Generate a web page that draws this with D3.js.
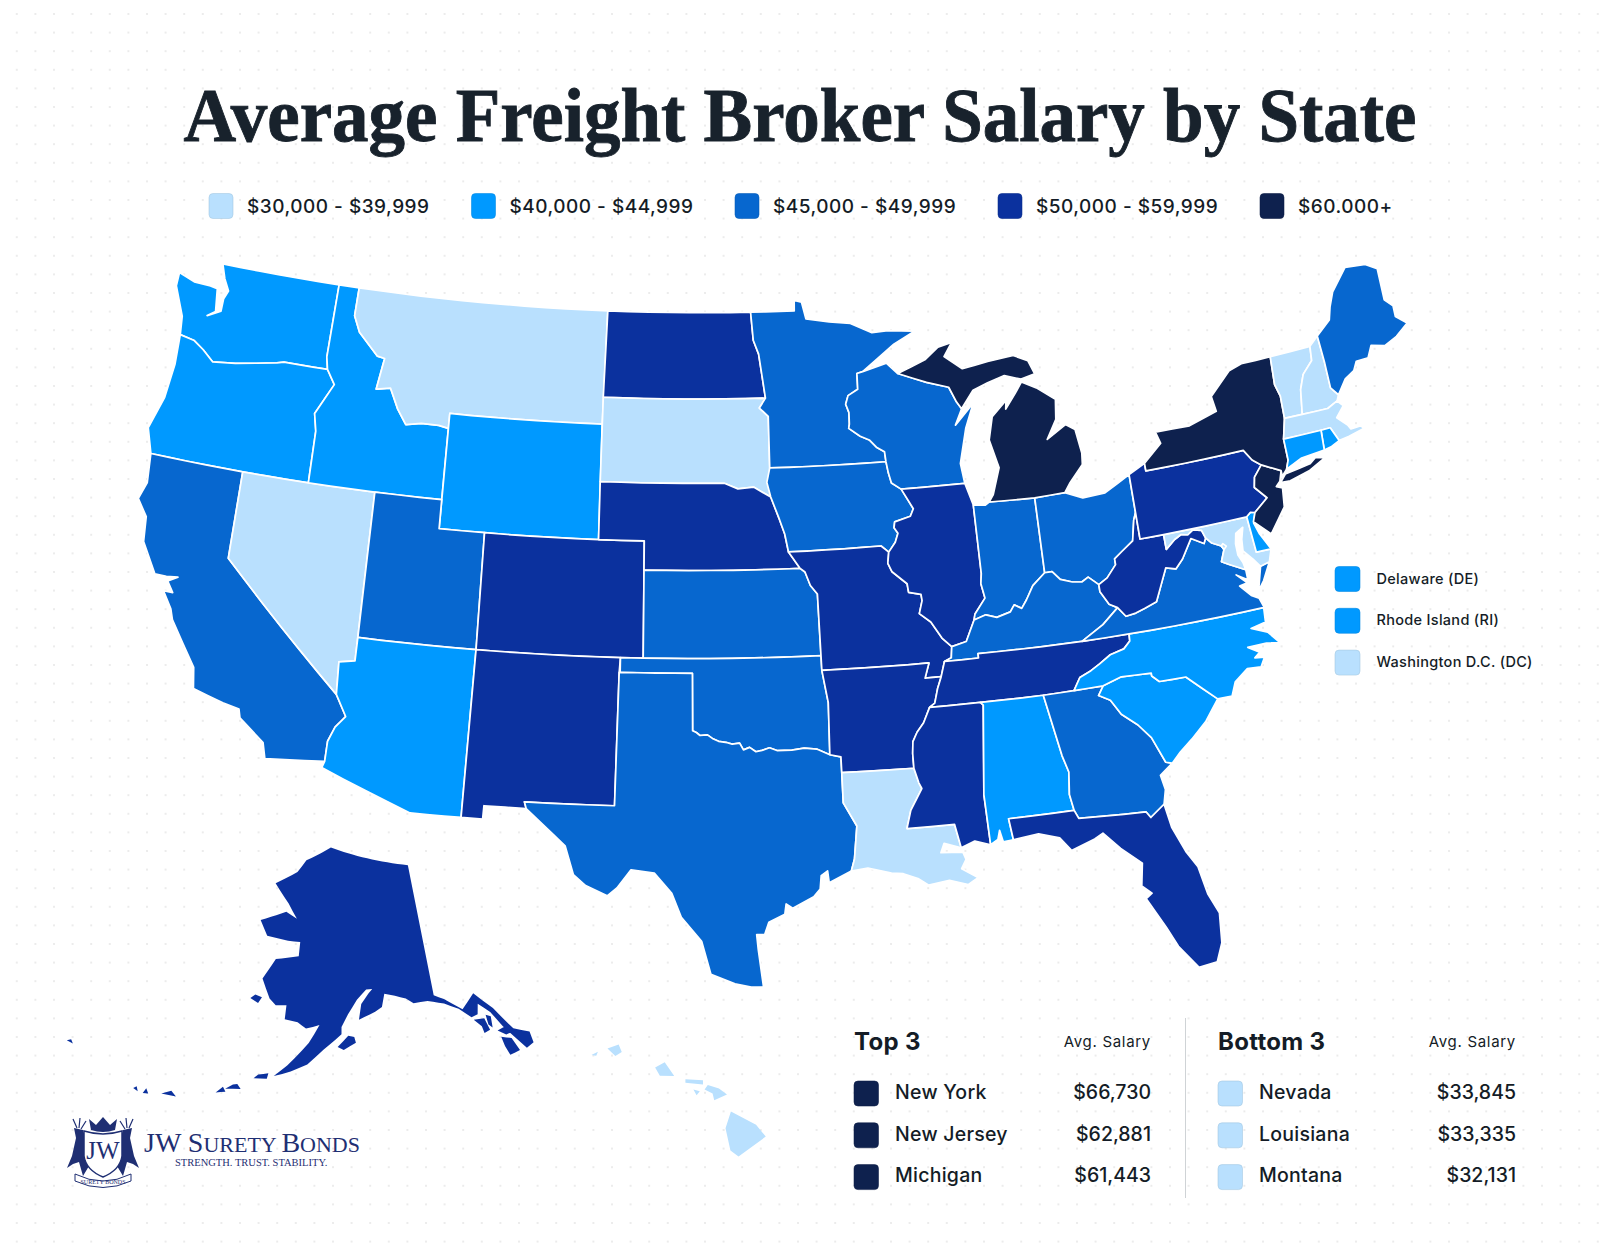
<!DOCTYPE html>
<html>
<head>
<meta charset="utf-8">
<title>Average Freight Broker Salary by State</title>
<script src="https://cdn.jsdelivr.net/npm/d3@7"></script>
<style>
  html, body { margin: 0; padding: 0; background: #fff; }
  svg { display: block; }
  text { font-family: Inter, sans-serif; fill: #141c26; }
</style>
</head>
<body>
<svg id="chart" width="1600" height="1250"></svg>
<script>
// salary bands, legends
var bandLabels = ["$30,000 - $39,999", "$40,000 - $44,999", "$45,000 - $49,999", "$50,000 - $59,999", "$60.000+"];
var bandColors = ["#b9e0fe", "#0099ff", "#0767cf", "#0b319e", "#0e214e"];
var bandStates = [
  ["MT", "SD", "NV", "LA", "VT", "NH", "MA", "MD", "DC", "HI"],
  ["WA", "OR", "ID", "WY", "AZ", "AL", "NC", "SC", "CT", "RI", "DE"],
  ["CA", "UT", "TX", "OK", "KS", "MN", "IA", "WI", "IN", "OH", "KY", "VA", "GA", "ME"],
  ["ND", "NE", "CO", "NM", "MO", "AR", "MS", "IL", "TN", "FL", "WV", "PA", "AK"],
  ["MI", "NY", "NJ"]
];
var smallStates = ["Delaware (DE)", "Rhode Island (RI)", "Washington D.C. (DC)"];
var smallBands = [1, 1, 0];
var topNames = ["New York", "New Jersey", "Michigan"];
var topSalaries = ["$66,730", "$62,881", "$61,443"];
var bottomNames = ["Nevada", "Louisiana", "Montana"];
var bottomSalaries = ["$33,845", "$33,335", "$32,131"];

// shared borders, lon/lat
var stCroix = [[-92.02,46.71],[-92.29,46.66],[-92.29,46.1],[-92.75,45.9],[-92.88,45.6],[-92.75,45.3],[-92.76,44.9],[-92.8,44.75],[-92.3,44.45],[-91.9,44.3],[-91.6,44.03],[-91.25,43.85],[-91.22,43.5]];
var missIaWi = [[-91.22,43.5],[-91.15,43.1],[-91.05,42.75],[-90.64,42.51]];
var missIaIl = [[-90.64,42.51],[-90.18,41.8],[-90.34,41.55],[-91.05,41.4],[-91.1,41.2],[-90.95,41.0],[-91.1,40.7],[-91.42,40.38]];
var missMoIl = [[-91.42,40.38],[-91.5,40.0],[-91.35,39.7],[-90.75,39.25],[-90.72,38.95],[-90.2,38.85],[-90.18,38.63],[-90.35,38.2],[-89.9,37.88],[-89.5,37.3],[-89.13,36.98]];
var missMoKy = [[-89.13,36.98],[-89.2,36.6],[-89.5,36.5]];
var missMoTn = [[-89.5,36.5],[-89.7,36.0]];
var missArTn = [[-89.7,36.0],[-89.9,35.6],[-90.07,35.13],[-90.3,35.0]];
var missArMs = [[-90.3,35.0],[-90.6,34.5],[-90.9,34.2],[-91.1,33.9],[-91.15,33.5],[-91.15,33.0]];
var missLaMs = [[-91.15,33.0],[-91.0,32.5],[-90.9,32.3],[-91.4,31.6],[-91.6,31.0]];
var ohioIlKy = [[-88.07,37.8],[-88.5,37.1],[-89.13,36.98]];
var ohioInKy = [[-84.82,39.1],[-85.4,38.72],[-85.75,38.27],[-86.0,38.0],[-86.3,38.15],[-86.5,37.93],[-87.1,37.8],[-87.55,37.93],[-88.07,37.8]];
var ohioOhKy = [[-82.6,38.42],[-83.0,38.73],[-83.3,38.6],[-83.7,38.65],[-84.2,38.8],[-84.5,39.1],[-84.82,39.1]];
var ohioOhWv = [[-80.52,40.64],[-80.65,40.4],[-80.85,39.7],[-81.4,39.4],[-81.75,39.2],[-81.75,39.0],[-82.2,38.6],[-82.6,38.42]];
var wabash = [[-87.53,39.35],[-87.6,39.0],[-87.5,38.5],[-88.0,38.0],[-88.07,37.8]];
var kyWv = [[-82.6,38.42],[-82.6,38.17],[-82.3,37.7],[-81.97,37.54]];
var kyVa = [[-81.97,37.54],[-82.7,37.05],[-83.68,36.6]];
var vaWv = [[-81.97,37.54],[-81.68,37.2],[-81.25,37.25],[-80.85,37.35],[-80.3,37.5],[-80.0,38.0],[-79.65,38.58],[-79.23,38.48],[-78.87,38.77],[-78.35,39.4],[-77.83,39.14],[-77.72,39.32]];
var mdWv = [[-77.72,39.32],[-77.83,39.6],[-78.2,39.68],[-78.45,39.55],[-78.75,39.6],[-79.05,39.48],[-79.48,39.2],[-79.48,39.72]];
var potomac = [[-77.72,39.32],[-77.5,39.1],[-77.12,38.93],[-77.04,38.79],[-77.25,38.4],[-76.95,38.25],[-76.3,37.95]];
var tnNc = [[-81.68,36.59],[-81.7,36.35],[-82.0,36.12],[-82.6,36.0],[-83.1,35.75],[-83.5,35.57],[-84.0,35.4],[-84.32,34.99]];
var savannah = [[-83.1,35.0],[-83.35,34.7],[-82.9,34.48],[-82.55,33.95],[-81.95,33.5],[-81.5,33.0],[-81.1,32.1],[-80.85,32.03]];
var ncSc = [[-83.1,35.0],[-82.3,35.2],[-81.05,35.15],[-81.05,35.05],[-80.78,34.82],[-79.67,34.8],[-78.55,33.86]];
var alGa = [[-85.6,34.98],[-85.18,32.87],[-85.0,32.3],[-85.1,31.55],[-85.0,31.0]];
var redRiver = [[-100,34.56],[-99.85,34.5],[-99.7,34.4],[-99.4,34.42],[-99.2,34.3],[-98.95,34.2],[-98.6,34.15],[-98.4,34.1],[-98.1,34.13],[-97.95,33.9],[-97.7,33.98],[-97.45,33.83],[-97.2,33.87],[-96.9,33.95],[-96.6,33.85],[-96.0,33.85],[-95.5,33.9],[-95.0,33.85],[-94.48,33.64]];
var moKs = [[-95.3,40],[-95.1,39.87],[-94.9,39.4],[-94.62,39.1]];
var neIa = [[-96.45,42.49],[-96.1,41.7],[-95.9,41.2],[-95.77,40.58]];
var neMo = [[-95.77,40.58],[-95.3,40]];
var neSd = [[-96.45,42.49],[-97.2,42.85],[-97.9,42.8],[-98.5,43],[-104.05,43]];
var redNorth = [[-97.23,49],[-97.1,48],[-96.85,47.5],[-96.56,45.94]];
var mnSd = [[-96.56,45.94],[-96.85,45.6],[-96.45,45.3],[-96.45,43.5]];
var idMt = [[-116.05,49],[-116.05,48],[-115.7,47.45],[-114.7,46.7],[-114.35,46.65],[-114.55,45.55],[-113.9,45.65],[-113.45,44.95],[-113,44.45],[-112.3,44.55],[-111.5,44.55],[-111.05,44.48]];
var orId = [[-116.92,45.99],[-116.5,45.5],[-116.85,44.95],[-117.2,44.4],[-117.03,43.8],[-117.03,42]];
var orWa = [[-124,46.25],[-123.3,46.15],[-122.8,45.9],[-122.25,45.55],[-121.2,45.65],[-119.3,45.93],[-118.98,46],[-116.92,45.99]];
var azCa = [[-114.63,35],[-114.13,34.3],[-114.5,33.9],[-114.72,33.4],[-114.72,32.72]];
var sabine = [[-94.04,33.02],[-94.04,32],[-93.55,31.2],[-93.7,30.1],[-93.84,29.7]];
var nyVt = [[-73.35,45],[-73.4,44],[-73.25,43.55],[-73.27,42.75]];
var vtNh = [[-71.5,45.01],[-71.55,44.5],[-72.05,44.1],[-72.3,43.6],[-72.46,42.73]];
var nhMe = [[-71.08,45.3],[-71,44.3],[-70.98,43.38],[-70.7,43.07]];
var paNy = [[-75.35,42],[-75.05,41.6],[-74.7,41.36]];
var paNj = [[-74.7,41.36],[-75.1,41],[-75.2,40.65],[-74.75,40.2],[-75.4,39.8]];

function rev(line) { return line.slice().reverse(); }

// state outlines, lon/lat
var WA = [[-124.7,48.38],[-123.9,48.17],[-123.1,48.15],[-122.75,48.1],[-122.6,47.3],[-122.95,47.1],[-122.35,47.35],[-122.35,47.8],[-122.2,48.1],[-122.5,48.5],[-122.75,49],[-120,49],[-117.03,49],[-117.04,46.42],[-116.92,45.99]].concat(rev(orWa).slice(1), [[-124.1,46.9],[-124.7,47.9]]);
var OR = orWa.concat(orId.slice(1), [[-120,42],[-124.2,42],[-124.55,42.85],[-124.1,44],[-123.95,45.2]]);
var CA = [[-124.2,42],[-120,42],[-120,39],[-114.63,35]].concat(azCa.slice(1), [[-117.12,32.53],[-117.3,33.05],[-118.4,33.75],[-118.5,34.03],[-119.2,34.15],[-120.5,34.45],[-120.65,35.15],[-121.9,36.6],[-122.05,36.95],[-122.5,37.5],[-122.1,37.5],[-122.4,37.85],[-122,38.05],[-122.5,38],[-123,38],[-123.75,39],[-123.85,39.85],[-124.35,40.4],[-124.1,41]]);
var NV = [[-120,42],[-114.04,42],[-114.04,36.2],[-114.7,36.1],[-114.63,35],[-120,39]];
var ID = [[-117.03,49]].concat(idMt, [[-111.05,42]], rev(orId), [[-117.04,46.42]]);
var MT = idMt.concat([[-111.05,45],[-104.05,45],[-104.05,49]]);
var WY = [[-111.05,45],[-104.05,45],[-104.05,41],[-111.05,41]];
var UT = [[-114.04,42],[-111.05,42],[-111.05,41],[-109.05,41],[-109.05,37],[-114.04,37]];
var CO = [[-109.05,41],[-102.05,41],[-102.05,37],[-109.05,37]];
var AZ = [[-114.04,37],[-109.05,37],[-109.05,31.33],[-111.07,31.33],[-114.8,32.5],[-114.72,32.72]].concat(rev(azCa).slice(1), [[-114.7,36.1],[-114.04,36.2]]);
var NM = [[-109.05,37],[-103,37],[-103.04,36.5],[-103.06,32],[-106.62,32],[-106.53,31.78],[-108.2,31.78],[-108.2,31.33],[-109.05,31.33]];
var ND = [[-104.05,49]].concat(redNorth, [[-104.05,45.94]]);
var SD = [[-104.05,45.94]].concat(mnSd, [[-96.45,42.49]], neSd.slice(1));
var NE = [[-104.05,43]].concat(rev(neSd).slice(1), neIa.slice(1), neMo.slice(1), [[-102.05,40],[-102.05,41],[-104.05,41]]);
var KS = [[-102.05,40]].concat(moKs, [[-94.62,37],[-102.05,37]]);
var OK = [[-103,37],[-94.62,37],[-94.62,36.5],[-94.43,35.4]].concat(rev(redRiver), [[-100,36.5],[-103,36.5]]);
var TX = [[-106.53,31.78],[-106.62,32],[-103.06,32],[-103.04,36.5],[-100,36.5]].concat(redRiver, [[-94.04,33.55]], sabine, [[-94.7,29.35],[-94.75,29.75],[-95,29.6],[-95.05,29.15],[-95.3,28.9],[-96.1,28.55],[-96.35,28.7],[-96.4,28.35],[-97.0,28.1],[-97.15,27.7],[-97.45,27.7],[-97.38,27.2],[-97.15,25.95],[-97.6,25.95],[-98.2,26.07],[-99.1,26.4],[-99.5,27.5],[-100.3,28.3],[-100.7,29.1],[-101.4,29.77],[-102.3,29.87],[-102.8,29.25],[-103.15,28.98],[-104,29.3],[-104.5,29.65],[-104.9,30.6],[-106,31.4]]);
var MN = redNorth.concat(mnSd.slice(1), rev(stCroix), [[-90.5,47.6],[-89.5,48],[-90.75,48.1],[-91.5,48.07],[-92.5,48.45],[-93.5,48.55],[-94.6,48.7],[-94.8,49.3],[-95.15,49.38],[-95.15,49]]);
var IA = [[-96.45,43.5],[-91.22,43.5]].concat(missIaWi.slice(1), missIaIl.slice(1), [[-91.73,40.61],[-95.77,40.58]], rev(neIa).slice(1), [[-96.6,43]]);
var MO = [[-95.77,40.58],[-91.73,40.61]].concat(missMoIl, missMoKy.slice(1), missMoTn.slice(1), [[-90.37,36],[-90.15,36.5],[-94.62,36.5],[-94.62,39.1]], rev(moKs).slice(1));
var AR = [[-94.62,36.5],[-90.15,36.5],[-90.37,36]].concat(missMoTn.slice(1), missArTn.slice(1), missArMs.slice(1), [[-94.04,33.02],[-94.04,33.55],[-94.48,33.64],[-94.43,35.4]]);
var LA = [[-94.04,33.02]].concat(missLaMs, [[-89.73,31],[-89.55,30.2],[-90.2,30.4],[-90.35,30.1],[-89.5,30.05],[-89.4,29.8],[-89.6,29.5],[-89,29.15],[-89.4,28.95],[-90.1,29.15],[-90.9,29.05],[-91.3,29.3],[-91.85,29.5],[-92.3,29.55],[-93.2,29.77]], rev(sabine));
var WI = stCroix.concat(missIaWi.slice(1), [[-87.8,42.5],[-87.9,43.2],[-87.5,44.4],[-87.05,45.25],[-87.95,44.55],[-87.6,45.1],[-87.8,45.35],[-88.1,45.9],[-89.1,46.15],[-90.4,46.55],[-90.9,46.95]]);
var IL = missIaIl.concat(missMoIl.slice(1), rev(ohioIlKy).slice(1), rev(wabash).slice(1), [[-87.53,41.72],[-87.8,42.5]]);
var IN = [[-87.53,41.72],[-87,41.67],[-86.82,41.76],[-84.8,41.7]].concat(ohioInKy, rev(wabash).slice(1));
var OH = [[-84.8,41.7],[-83.45,41.73],[-82.7,41.45],[-81.7,41.5],[-80.52,41.98]].concat(ohioOhWv, ohioOhKy.slice(1));
var KY = rev(missMoKy).concat(rev(ohioIlKy).slice(1), rev(ohioInKy).slice(1), rev(ohioOhKy).slice(1), kyWv.slice(1), kyVa.slice(1), [[-88.07,36.65],[-88.07,36.5]]);
var TN = [[-90.3,35]].concat(rev(missArTn).slice(1), [[-89.5,36.5],[-88.07,36.5],[-88.07,36.65],[-83.68,36.6]], tnNc, [[-85.6,34.98],[-88.2,35]]);
var MS = [[-90.3,35],[-88.2,35],[-88.1,34.9],[-88.47,31.9],[-88.4,30.2],[-89,30.38],[-89.55,30.2],[-89.73,31]].concat(rev(missLaMs), rev(missArMs).slice(1));
var AL = [[-88.2,35],[-85.6,34.98]].concat(alGa.slice(1), [[-87.6,31],[-87.5,30.28],[-87.9,30.25],[-88,30.65],[-88.1,30.35],[-88.4,30.2],[-88.47,31.9],[-88.1,34.9]]);
var GA = alGa.concat([[-84.86,30.71],[-82.2,30.57],[-82.05,30.36],[-81.45,30.72],[-81.3,31.2],[-81.4,31.7]], rev(savannah), [[-84.32,34.99]]);
var FL = [[-87.6,31],[-85,31],[-84.86,30.71],[-82.2,30.57],[-82.05,30.36],[-81.45,30.72],[-81.3,29.9],[-80.9,29],[-80.55,28.45],[-80.35,27.5],[-80.03,26.8],[-80.12,25.8],[-80.4,25.2],[-81.1,25.13],[-81.75,25.95],[-82.1,26.65],[-82.7,27.7],[-82.45,27.85],[-82.8,28.15],[-82.65,28.9],[-83.4,29.5],[-84,30.1],[-84.35,29.95],[-85.3,29.68],[-85.7,30.15],[-86.5,30.38],[-87.5,30.28]];
var SC = savannah.concat([[-80.45,32.35],[-79.9,32.7],[-79.2,33.2]], rev(ncSc));
var NC = [[-75.87,36.55],[-81.68,36.59]].concat(tnNc.slice(1), [[-83.1,35]], ncSc.slice(1), [[-77.95,33.85],[-77.7,34.3],[-77.1,34.65],[-76.53,34.6],[-76.3,34.9],[-76.7,34.95],[-76.45,35.1],[-76.9,35.35],[-76.1,35.35],[-75.53,35.25],[-75.95,35.7],[-76.6,35.95],[-75.95,36.05],[-75.9,36.5]]);
var VA = [[-83.68,36.6],[-82.7,37.05]].concat(vaWv, potomac.slice(1), [[-76.3,37.6],[-76.75,37.85],[-76.35,37.5],[-76.7,37.45],[-76.3,37.05],[-76,36.9],[-75.87,36.55],[-81.68,36.59]]);
var VAshore = [[-75.24,38.03],[-75.65,37.95],[-75.95,37.15],[-75.65,37.45]];
var WV = ohioOhWv.concat(kyWv.slice(1), vaWv.slice(1), mdWv.slice(1), [[-80.52,39.72]]);
var MD = [[-79.48,39.72],[-75.79,39.72],[-75.7,38.46],[-75.05,38.45],[-75.24,38.03],[-75.65,37.95],[-75.9,38.25],[-76.25,38.6],[-76.2,39],[-76.05,39.4],[-76.4,39.25],[-76.5,38.9],[-76.5,38.5],[-76.35,38.2],[-76.3,37.95]].concat(rev(potomac).slice(1), mdWv.slice(1));
var DC = [[-77.12,38.93],[-77.04,39],[-76.91,38.89],[-77.04,38.79]];
var DE = [[-75.79,39.72],[-75.6,39.84],[-75.4,39.8],[-75.55,39.45],[-75.4,39.05],[-75.05,38.45],[-75.7,38.46]];
var PA = [[-80.52,41.98],[-79.76,42.27],[-79.76,42]].concat(paNy, paNj.slice(1), [[-75.6,39.84],[-75.79,39.72],[-79.48,39.72],[-80.52,39.72]]);
var NJ = paNj.concat([[-75.55,39.5],[-74.9,38.95],[-74.1,39.75],[-74,40.4],[-74.25,40.5],[-74.05,40.65],[-73.9,41]]);
var NY = [[-79.76,42],[-79.76,42.27],[-78.9,42.85],[-79.05,43.27],[-77.5,43.25],[-76.2,43.55],[-76.3,44.1],[-75.3,44.85],[-74.7,45]].concat(nyVt, [[-73.5,42.05],[-73.5,41.3],[-73.65,41],[-73.9,40.8],[-73.9,41],[-74.7,41.36]], rev(paNy).slice(1));
var LongIsland = [[-74.03,40.6],[-73.75,40.85],[-72.6,40.98],[-72.3,41.15],[-71.9,41.05],[-72.7,40.75],[-73.6,40.58]];
var VT = nyVt.concat([[-72.46,42.73]], rev(vtNh).slice(1));
var NH = vtNh.concat([[-71.3,42.7],[-70.82,42.87],[-70.7,43.07]], rev(nhMe).slice(1));
var ME = nhMe.concat([[-70.25,43.55],[-69.8,43.75],[-69.6,44.05],[-69.05,44.05],[-68.8,44.45],[-68.2,44.3],[-67.6,44.5],[-67,44.85],[-67.45,45.2],[-67.45,45.6],[-67.78,45.9],[-67.8,47.07],[-68.3,47.35],[-69.23,47.45],[-70,46.7],[-70.25,46.2],[-70.4,45.75]]);
var MA = [[-73.5,42.05],[-73.27,42.75],[-72.46,42.73],[-71.3,42.7],[-70.82,42.87],[-70.6,42.65],[-71,42.3],[-70.6,41.95],[-70.5,41.78],[-70,41.8],[-70.2,42.07],[-69.95,41.67],[-70.65,41.55],[-71.12,41.5],[-71.38,42.02],[-71.8,42.02]];
var RI = [[-71.8,42.02],[-71.38,42.02],[-71.12,41.5],[-71.5,41.37],[-71.85,41.32]];
var CT = [[-73.5,42.05],[-71.8,42.02],[-71.85,41.32],[-72.9,41.25],[-73.65,41],[-73.5,41.3]];
var MIupper = [[-90.4,46.55],[-89.1,46.95],[-88.45,47.35],[-87.8,47.47],[-88.2,47],[-87.4,46.5],[-86.2,46.65],[-85,46.75],[-84.35,46.5],[-84.1,46],[-84.75,45.88],[-85.5,46.08],[-86.3,45.9],[-87,45.7],[-87.6,45.1],[-87.8,45.35],[-88.1,45.9],[-89.1,46.15]];
var MIlower = [[-86.82,41.76],[-84.8,41.7],[-83.45,41.73],[-83.15,42.05],[-82.5,42.6],[-82.45,43],[-82.6,43.85],[-83,44.07],[-83.9,43.65],[-83.4,44.3],[-83.3,45],[-84.1,45.5],[-84.75,45.78],[-85.1,45.4],[-85.6,44.9],[-85.55,45.2],[-86.25,44.7],[-86.5,43.9],[-86.2,42.9],[-86.6,42]];

var AKmain = [[-141,69.65],[-141,60.3],[-139.7,59.9],[-139,59.6],[-137.5,58.9],[-135.5,59.8],[-133.5,58.4],[-131.8,56.6],[-130,56],[-130,55.2],[-131,55],[-131.8,55.8],[-133,57],[-134,58.2],[-135.3,59],[-135.7,58.3],[-136.6,58.2],[-138,59],[-139.8,59.6],[-142,60],[-144,60],[-145,60.4],[-146.5,60.7],[-148,60.9],[-148.5,60],[-149.5,59.7],[-151.8,59.2],[-151.4,60.3],[-150.3,61],[-149.7,61.3],[-150.6,61.3],[-152,60.6],[-153.3,59.6],[-154.2,58.7],[-154.2,58.2],[-156.5,57.1],[-158.5,56],[-160.5,55.4],[-162.5,54.95],[-161,55.8],[-158.5,57.5],[-157.2,58.8],[-159,58.5],[-160.2,58.9],[-162,59],[-162,60],[-163.5,59.9],[-164.5,60.3],[-166,61.6],[-165,62.6],[-164.5,63.1],[-161,63.5],[-161,64.5],[-163,64.5],[-166.5,64.6],[-168.1,65.6],[-164,66.5],[-162,66.1],[-163.8,67.1],[-166.8,68.35],[-163,69.4],[-161.5,70.3],[-156.6,71.35],[-152,70.85],[-146,70.2]];
var AKislands = [
  [[-136.4,58],[-135,57.9],[-134.7,57],[-135.5,56.9],[-135.6,57.4]],
  [[-134.7,58.1],[-134.1,57.9],[-134.3,57.1],[-134.7,57.4]],
  [[-133.6,56.3],[-132.4,56],[-131.9,55],[-133.2,54.9],[-133.5,55.6]],
  [[-133.8,56.8],[-132.9,56.9],[-132,56.4],[-132.9,56.35]],
  [[-154.7,57.3],[-153.9,57.1],[-152.3,57.6],[-152.5,58],[-153.3,58.1]],
  [[-167.2,60.1],[-166,59.85],[-165.6,60.3],[-166.6,60.4]],
  [[-164.9,54.6],[-163.3,54.7],[-163.2,55.1],[-164.4,54.9]],
  [[-168,53.5],[-166.2,53.7],[-166.7,54],[-167.2,53.9]],
  [[-169,53.1],[-167.9,53.3],[-168.3,53.6]],
  [[-175,52],[-173.3,52.1],[-174,52.4]],
  [[-177,51.6],[-176.4,51.7],[-176.8,52]],
  [[-178.2,51.7],[-177.9,51.9],[-177.6,51.6]],
  [[172.6,52.8],[173.4,52.8],[173,53]]
];
var HIislands = [
  [[-155.88,20.25],[-155.1,19.85],[-154.8,19.5],[-155.65,18.92],[-155.9,19.1],[-156.05,19.75]],
  [[-156.7,20.9],[-156.6,21.03],[-156.25,20.93],[-156,20.75],[-156.4,20.58],[-156.45,20.78]],
  [[-157.3,21.2],[-156.75,21.17],[-156.75,21.05],[-157.3,21.1]],
  [[-157.05,20.9],[-156.85,20.85],[-156.95,20.73]],
  [[-158.25,21.55],[-157.95,21.7],[-157.65,21.3],[-158.1,21.3]],
  [[-159.75,22.1],[-159.4,22.22],[-159.3,22],[-159.5,21.88]],
  [[-160.25,21.9],[-160.05,22],[-160.1,21.88]]
];

var stateCodes = ["WA","OR","CA","NV","ID","MT","WY","UT","CO","AZ","NM","ND","SD","NE","KS","OK","TX","MN","IA","MO","AR","LA","WI","IL","IN","OH","KY","TN","MS","AL","GA","FL","SC","NC","VA","WV","MD","DC","DE","PA","NJ","NY","VT","NH","ME","MA","RI","CT","MI"];
var stateRings = [[WA],[OR],[CA],[NV],[ID],[MT],[WY],[UT],[CO],[AZ],[NM],[ND],[SD],[NE],[KS],[OK],[TX],[MN],[IA],[MO],[AR],[LA],[WI],[IL],[IN],[OH],[KY],[TN],[MS],[AL],[GA],[FL],[SC],[NC],[VA,VAshore],[WV],[MD],[DC],[DE],[PA],[NJ],[NY,LongIsland],[VT],[NH],[ME],[MA],[RI],[CT],[MIupper,MIlower]];

// the printed map is not a clean Albers: known corners [lon, lat] and where they sit on the page
var pinLonLat = [[-124.7,48.38],[-117.03,49],[-116.05,49],[-122.75,49],[-116.92,45.99],[-117.03,42],[-120,42],[-124.2,42],[-120,39],[-114.04,42],[-111.05,42],[-111.05,45],[-111.05,41],[-109.05,41],[-124.35,40.4],[-124,46.25],
  [-114.04,37],[-109.05,37],[-114.63,35],[-117.12,32.53],[-114.72,32.72],[-114.8,32.5],[-111.07,31.33],[-109.05,31.33],[-108.2,31.33],[-108.2,31.78],[-106.53,31.78],
  [-104.05,49],[-97.23,49],[-95.15,49.38],[-89.5,48],[-92.02,46.71],[-104.05,45.94],[-96.56,45.94],[-104.05,45],[-104.05,43],[-96.45,43.5],[-91.22,43.5],[-90.64,42.51],[-96.45,42.49],[-104.05,41],[-102.05,41],[-102.05,40],[-95.3,40],[-95.77,40.58],[-91.42,40.38],[-94.62,39.1],[-102.05,37],[-94.62,37],[-89.13,36.98],[-87.8,42.5],
  [-103,37],[-103,36.5],[-100,36.5],[-100,34.56],[-94.48,33.64],[-94.04,33.02],[-91.15,33],[-91.6,31],[-89.73,31],[-103.06,32],[-97.15,25.95],[-93.84,29.7],[-103.15,28.98],[-94.62,36.5],[-90.15,36.5],[-90.37,36],[-90.3,35],
  [-87.53,41.72],[-86.82,41.76],[-84.8,41.7],[-83.45,41.73],[-80.52,41.98],[-79.76,42.27],[-79.76,42],[-74.7,41.36],[-74.9,38.95],[-75.35,42],[-73.35,45],[-73.27,42.75],[-73.5,42.05],[-71.5,45.01],[-72.46,42.73],[-71.08,45.3],[-70.7,43.07],[-69.23,47.45],[-67,44.85],[-67.78,45.9],[-71.8,42.02],[-73.65,41],[-75.79,39.72],[-80.52,39.72],[-80.52,40.64],[-82.6,38.42],[-84.82,39.1],[-75.05,38.45],[-76,36.9],[-84.75,45.78],[-82.6,43.85],[-84.1,46],
  [-83.68,36.6],[-81.68,36.59],[-84.32,34.99],[-85.6,34.98],[-88.2,35],[-78.55,33.86],[-80.85,32.03],[-81.45,30.72],[-84.86,30.71],[-85,31],[-87.6,31],[-88.4,30.2],[-80.12,25.8],[-81.1,25.13],[-82.7,27.7],[-80.55,28.45],[-85.3,29.68],[-89,29.15],[-75.53,35.25]];
var pinPage = [[180,274.3],[338.3,285.7],[358.7,289.3],[223.3,264.3],[329,367.7],[308.7,481.7],[241.3,472.3],[149.3,453.3],[226,557.7],[375.3,492.7],[442,500],[450.7,413.3],[439.7,529],[485,533.3],[136,498.3],[181.7,332.3],
  [359,637.7],[476,650.7],[335,695],[265,757.3],[329,761.7],[322.3,769],[411,813.3],[462.3,817.3],[482.3,819.3],[483.3,806],[524,804],
  [608.3,311.7],[750,312.7],[795,300],[905,330.7],[858.3,370],[606.7,396.7],[766,396.7],[603.3,423.3],[602.7,482.3],[770,466.7],[885.7,461],[903.3,488.3],[766.7,491.7],[600,539.3],[646,540.7],[646,571.7],[798.3,569],[789.3,550.7],[888.3,546.7],[818.3,591.7],[644,657.3],[819.3,656.7],[948.3,646.7],[963.3,481.7],
  [620,659],[618.3,673.3],[691,674.3],[691,731],[828.3,756],[840,774],[912.7,769.3],[906,829.3],[954,825.7],[614,807.7],[763.3,987.3],[846.7,871.7],[608.3,895],[821.7,671],[928.3,664],[924,680],[930.7,708.3],
  [974,506.7],[994,500],[1036,495.7],[1065,491.7],[1130,475],[1145,465],[1145.7,471],[1260.7,465.7],[1275,530],[1242.7,450.7],[1266.7,357.3],[1284,417.7],[1285,439],[1307.3,338.3],[1299.3,413.3],[1313.3,336],[1336,393.3],[1356.7,263.3],[1400.7,324.3],[1386.7,306.7],[1322.3,432.7],[1288.3,466.7],[1248.3,518.3],[1141.7,539],[1135,513.3],[1100.7,585],[1046,571.7],[1271.7,550],[1262.7,603.3],[1018.3,381.7],[1081.7,451.7],[1035,370],
  [1081.7,643.3],[1130,635],[1073.3,690.7],[1042.7,696.7],[981.7,704.3],[1216.7,700],[1170,765],[1163.3,808.3],[1076.7,819.3],[1073.3,812.7],[1008.3,820],[988.3,840],[1220,958.3],[1201.7,965],[1145,890],[1190,860],[1100,836],[975,880],[1275,633]];

var svg = d3.select("#chart");

// faint dot background
var dots = svg.append("defs").append("pattern")
  .attr("id", "dots").attr("patternUnits", "userSpaceOnUse")
  .attr("x", 15.8).attr("y", 13).attr("width", 18.6).attr("height", 18.6);
dots.append("circle").attr("cx", 1).attr("cy", 1).attr("r", 0.9).attr("fill", "#e3e3e3");
svg.append("rect").attr("width", 1600).attr("height", 1250).attr("fill", "#fff");
svg.append("rect").attr("width", 1600).attr("height", 1250).attr("fill", "url(#dots)");

function bandOf(code) {
  return bandStates.findIndex(function (list) { return list.indexOf(code) >= 0; });
}

// straight lon/lat runs would bow as great arcs, so split them up
function closeRing(ring) {
  var out = [];
  var pts = ring.concat([ring[0]]);
  for (var i = 0; i < pts.length - 1; i++) {
    var a = pts[i], b = pts[i + 1];
    var n = Math.max(1, Math.ceil(Math.abs(b[0] - a[0])));
    for (var j = 0; j < n; j++) {
      out.push([a[0] + (b[0] - a[0]) * j / n, a[1] + (b[1] - a[1]) * j / n]);
    }
  }
  out.push(out[0]);
  // d3 wants the inside on the right hand side
  if (d3.geoArea({ type: "Polygon", coordinates: [out] }) > 2 * Math.PI) out.reverse();
  return out;
}

function toFeature(rings, code) {
  return {
    type: "Feature", id: code,
    geometry: { type: "MultiPolygon", coordinates: rings.map(function (r) { return [closeRing(r)]; }) }
  };
}

var albers = d3.geoConicEqualArea().parallels([29.5, 45.5]).rotate([96, 0]).center([0, 38.7]).scale(1700).translate([800, 600]);
var alaskaProj = d3.geoConicEqualArea().parallels([55, 65]).rotate([154, 0]).center([0, 62]).scale(815).translate([343, 980]);
var hawaiiProj = d3.geoConicEqualArea().parallels([8, 18]).rotate([157, 0]).center([0, 20.5]).scale(1950).translate([695, 1103]);

// cubic least squares from albers output to the page
function pinTerms(p) {
  var u = (p[0] - 800) / 600, v = (p[1] - 600) / 400;
  return [1, u, v, u * u, u * v, v * v, u * u * u, u * u * v, u * v * v, v * v * v];
}
function solveFit(axis) {
  var rows = pinLonLat.map(function (ll) { return pinTerms(albers(ll)); });
  var n = rows[0].length;
  var m = d3.range(n).map(function (i) {
    return d3.range(n).map(function (j) { return d3.sum(rows, function (r) { return r[i] * r[j]; }); })
      .concat(d3.sum(rows, function (r, k) { return r[i] * pinPage[k][axis]; }));
  });
  for (var c = 0; c < n; c++) {
    var best = c;
    for (var r = c + 1; r < n; r++) if (Math.abs(m[r][c]) > Math.abs(m[best][c])) best = r;
    var tmp = m[c]; m[c] = m[best]; m[best] = tmp;
    for (var r2 = 0; r2 < n; r2++) {
      if (r2 === c) continue;
      var f = m[r2][c] / m[c][c];
      for (var k = c; k <= n; k++) m[r2][k] -= f * m[c][k];
    }
  }
  return m.map(function (row, i) { return row[n] / row[i]; });
}
var fitX = solveFit(0), fitY = solveFit(1);
var pageWarp = d3.geoTransform({
  point: function (x, y) {
    var t = pinTerms([x, y]);
    this.stream.point(d3.sum(t, function (v, i) { return v * fitX[i]; }), d3.sum(t, function (v, i) { return v * fitY[i]; }));
  }
});
var lower48 = { stream: function (s) { return albers.stream(pageWarp.stream(s)); } };

var map = svg.append("g").attr("class", "map");
map.selectAll("path.state")
  .data(stateCodes.map(function (c, i) { return toFeature(stateRings[i], c); }))
  .enter().append("path")
  .attr("class", "state")
  .attr("d", d3.geoPath(lower48))
  .attr("fill", function (d) { return bandColors[bandOf(d.id)]; })
  .attr("stroke", "#fff").attr("stroke-width", 1.7).attr("stroke-linejoin", "round");

map.append("path")
  .datum(toFeature([AKmain].concat(AKislands), "AK"))
  .attr("d", d3.geoPath(alaskaProj))
  .attr("fill", bandColors[bandOf("AK")]);
map.append("path")
  .datum(toFeature(HIislands, "HI"))
  .attr("d", d3.geoPath(hawaiiProj))
  .attr("fill", bandColors[bandOf("HI")]);

// title
svg.append("text").attr("x", 800).attr("y", 141).attr("text-anchor", "middle")
  .attr("textLength", 1233).attr("lengthAdjust", "spacingAndGlyphs")
  .style("font-family", "'Liberation Serif', serif").style("font-weight", 700).style("font-size", "76px")
  .style("fill", "#18222c").style("stroke", "#18222c").style("stroke-width", "0.9px")
  .text("Average Freight Broker Salary by State");

function swatch(g, x, y, w, h, band) {
  g.append("rect").attr("x", x).attr("y", y).attr("width", w).attr("height", h).attr("rx", 4)
    .attr("fill", bandColors[band])
    .attr("stroke", d3.color(bandColors[band]).darker(0.35)).attr("stroke-opacity", 0.55).attr("stroke-width", 1);
}

// top legend
var legendSwatchX = [209, 471.5, 735, 998, 1260];
var topLegend = svg.append("g");
bandLabels.forEach(function (label, i) {
  swatch(topLegend, legendSwatchX[i], 193.5, 24, 25, i);
  topLegend.append("text").attr("x", legendSwatchX[i] + 38).attr("y", 212.5)
    .style("font-size", "19px").style("font-weight", 500).style("letter-spacing", "0.5px").text(label);
});

// small states legend
var sideLegend = svg.append("g");
smallStates.forEach(function (label, i) {
  var y = 566.5 + i * 41.8;
  swatch(sideLegend, 1335, y, 25, 25, smallBands[i]);
  sideLegend.append("text").attr("x", 1376.5).attr("y", y + 17)
    .style("font-size", "14.5px").style("font-weight", 500).style("letter-spacing", "0.3px").text(label);
});

// top and bottom tables
function table(x, right, title, names, salaries, band) {
  var g = svg.append("g");
  g.append("text").attr("x", x).attr("y", 1050).style("font-size", "24px").style("font-weight", 700).style("letter-spacing", "0.3px").text(title);
  g.append("text").attr("x", right).attr("y", 1047).attr("text-anchor", "end")
    .style("font-size", "15px").style("font-weight", 400).style("letter-spacing", "0.7px").text("Avg. Salary");
  names.forEach(function (name, i) {
    var y = 1081 + i * 41.8;
    swatch(g, x, y, 24.5, 25, band);
    g.append("text").attr("x", x + 41).attr("y", y + 17.8).style("font-size", "19.5px").style("font-weight", 500).style("letter-spacing", "0.25px").text(name);
    g.append("text").attr("x", right).attr("y", y + 17.8).attr("text-anchor", "end")
      .style("font-size", "19.5px").style("font-weight", 500).text(salaries[i]);
  });
}
table(854, 1151, "Top 3", topNames, topSalaries, 4);
table(1218, 1516, "Bottom 3", bottomNames, bottomSalaries, 0);
svg.append("line").attr("x1", 1185.5).attr("x2", 1185.5).attr("y1", 1018).attr("y2", 1198)
  .attr("stroke", "#cfd3d6").attr("stroke-width", 1);

// logo
var logoColor = "#1f2f73";
var logo = svg.append("g").attr("transform", "translate(103,1150)");
logo.append("path").attr("fill", logoColor)
  .attr("d", "M-36 18 L-31 6 L-27 -12 L-29 -22 L-20 -20 L-16 -6 L-14 16 L-20 26 L-24 12 L-30 14Z");
logo.append("path").attr("fill", logoColor)
  .attr("d", "M36 18 L31 6 L27 -12 L29 -22 L20 -20 L16 -6 L14 16 L20 26 L24 12 L30 14Z");
logo.append("path").attr("fill", "none").attr("stroke", logoColor).attr("stroke-width", 1.2)
  .attr("d", "M-26 -22 L-30 -31 M-24 -22 L-23 -32 M-22 -21 L-17 -29 M26 -22 L30 -31 M24 -22 L23 -32 M22 -21 L17 -29");
logo.append("path").attr("fill", "#fff").attr("stroke", logoColor).attr("stroke-width", 1.5)
  .attr("d", "M-19 -19 Q0 -13 19 -19 L19 6 Q17 20 0 27 Q-17 20 -19 6Z");
logo.append("path").attr("fill", logoColor)
  .attr("d", "M-12 -20 L-14 -31 L-7 -25 L0 -33 L7 -25 L14 -31 L12 -20 Q0 -16 -12 -20Z");
logo.append("text").attr("x", 0).attr("y", 9).attr("text-anchor", "middle")
  .style("font-family", "'Liberation Serif', serif").style("font-size", "25px").style("fill", logoColor).text("JW");
logo.append("path").attr("fill", "#fff").attr("stroke", logoColor).attr("stroke-width", 1)
  .attr("d", "M-28 24 Q0 38 28 24 L28 31 Q0 44 -28 31Z");
logo.append("text").attr("x", 0).attr("y", 34).attr("text-anchor", "middle")
  .style("font-family", "'Liberation Serif', serif").style("font-size", "6px").style("fill", logoColor).text("SURETY BONDS");

var wordmark = svg.append("text").attr("x", 144).attr("y", 1152)
  .style("font-family", "'Liberation Serif', serif").style("font-size", "28px").style("fill", logoColor);
wordmark.append("tspan").text("JW S");
wordmark.append("tspan").style("font-size", "22px").text("URETY ");
wordmark.append("tspan").text("B");
wordmark.append("tspan").style("font-size", "22px").text("ONDS");
svg.append("text").attr("x", 175).attr("y", 1166)
  .style("font-family", "'Liberation Serif', serif").style("font-size", "10.5px").style("fill", logoColor)
  .text("STRENGTH. TRUST. STABILITY.");
</script>
</body>
</html>
